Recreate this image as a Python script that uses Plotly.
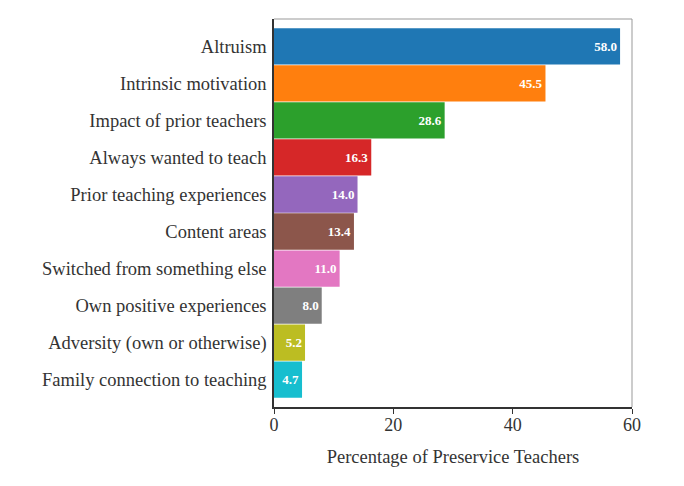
import plotly.graph_objects as go

# Reasons for choosing teaching (top to bottom)
reasons = [
    "Altruism",
    "Intrinsic motivation",
    "Impact of prior teachers",
    "Always wanted to teach",
    "Prior teaching experiences",
    "Content areas",
    "Switched from something else",
    "Own positive experiences",
    "Adversity (own or otherwise)",
    "Family connection to teaching",
]
percentages = [58.0, 45.5, 28.6, 16.3, 14.0, 13.4, 11.0, 8.0, 5.2, 4.7]
x_ticks = [0, 20, 40, 60]

# matplotlib tab10 colours
bar_colors = ["#1f77b4", "#ff7f0e", "#2ca02c", "#d62728", "#9467bd",
              "#8c564b", "#e377c2", "#7f7f7f", "#bcbd22", "#17becf"]

serif = "Liberation Serif, DejaVu Serif, serif"

fig = go.Figure()

fig.add_trace(go.Bar(
    x=percentages,
    y=reasons,
    orientation="h",
    width=0.98,
    marker=dict(color=bar_colors, line=dict(width=0)),
    text=[f"{v:.1f}" for v in percentages],
    textposition="inside",
    insidetextanchor="end",
    textangle=0,
    textfont=dict(family=serif, size=13, color="white", weight="bold"),
    hoverinfo="skip",
    showlegend=False,
))

# page body has an 8px default margin, so margins are shifted by it
fig.update_layout(
    width=684,
    height=486,
    margin=dict(l=266, r=60, t=11, b=87),
    plot_bgcolor="white",
    paper_bgcolor="white",
    font=dict(family=serif, size=18, color="#333333"),
    bargap=0.02,
    xaxis=dict(
        range=[0, 60],
        tickvals=x_ticks,
        ticks="outside",
        ticklen=5,
        tickcolor="#333333",
        ticklabelstandoff=-4,
        showline=True,
        linecolor="#333333",
        linewidth=1.5,
        showgrid=False,
        zeroline=False,
        tickfont=dict(size=18),
        title=dict(text="Percentage of Preservice Teachers", standoff=16,
                   font=dict(size=18.5)),
    ),
    yaxis=dict(
        autorange=False,
        range=[9.74, -0.74],
        showline=True,
        linecolor="#333333",
        linewidth=1.5,
        ticks="",
        ticklabelstandoff=2,
        showgrid=False,
        zeroline=False,
        tickfont=dict(size=18.5),
    ),
)

# lighter top and right spines
fig.add_shape(type="line", xref="paper", yref="paper", x0=0, x1=1, y0=1, y1=1,
              line=dict(color="#999999", width=1))
fig.add_shape(type="line", xref="paper", yref="paper", x0=1, x1=1, y0=0, y1=1,
              line=dict(color="#999999", width=1))

fig.write_html("out.html")
